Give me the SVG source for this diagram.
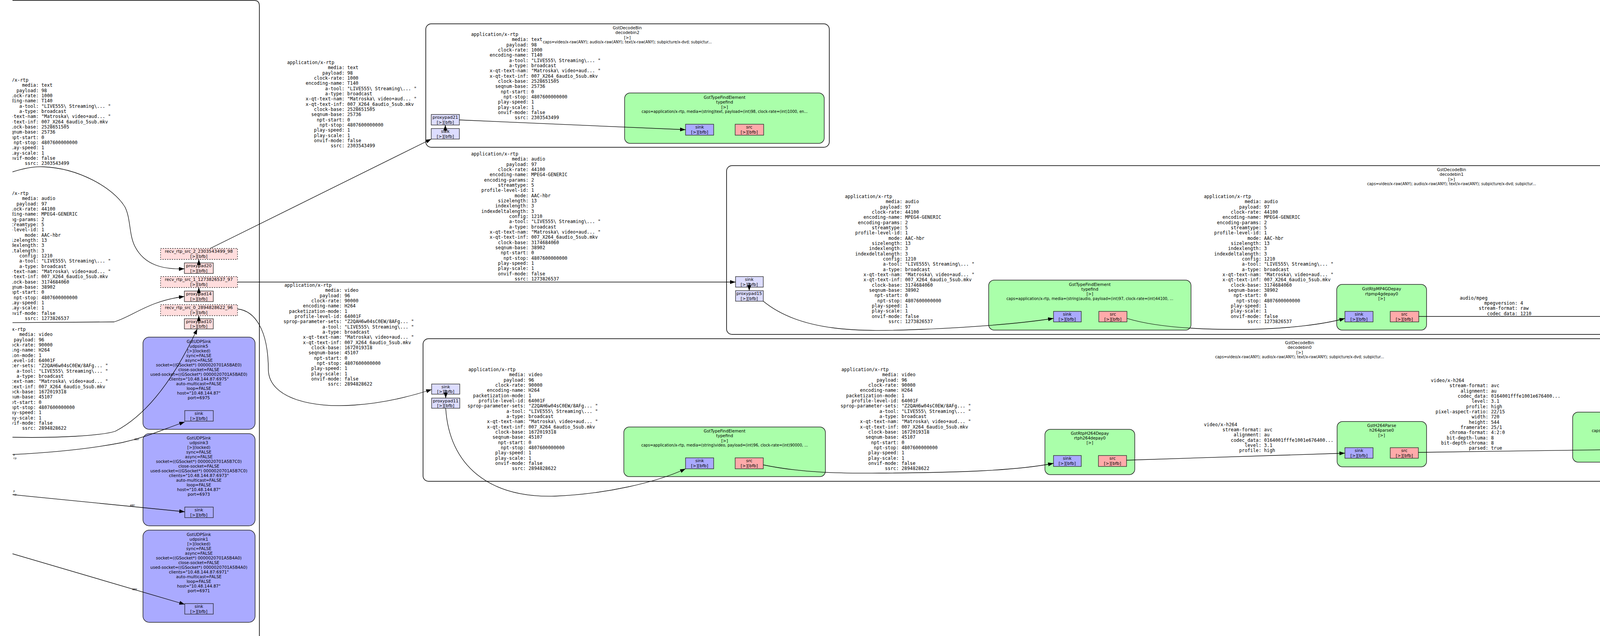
<svg xmlns="http://www.w3.org/2000/svg" xmlns:xlink="http://www.w3.org/1999/xlink" width="5776" height="1628" viewBox="0 0 5776 1628">
<style>
.bin{fill:#fff;stroke:#333;stroke-width:2}
.el{fill:#aaffaa;stroke:#222;stroke-width:1.5}
.udp{fill:#aaaaff;stroke:#222;stroke-width:1.5}
.sk{fill:#aaaaff;stroke:#222;stroke-width:1.3}
.sr{fill:#ffaaaa;stroke:#222;stroke-width:1.3}
.gs{fill:#ddddff;stroke:#222;stroke-width:1.3}
.gp{fill:#ffdddd;stroke:#222;stroke-width:1.3}
.rq{fill:#ffdddd;stroke:#222;stroke-width:1.3;stroke-dasharray:3,3}
text{fill:#000}
.l{font-family:"DejaVu Sans",sans-serif;font-size:10.5px;text-anchor:middle}
.c{font-size:9.6px}
.p{font-family:"DejaVu Sans",sans-serif;font-size:11px;text-anchor:middle}
.m{font-family:"DejaVu Sans Mono",monospace;font-size:11.8px}
.k{text-anchor:end}
.s{font-family:"DejaVu Sans Mono",monospace;font-size:7px}
.e{fill:none;stroke:#000;stroke-width:1.3;marker-end:url(#a)}
</style>
<defs>
<clipPath id="cp"><rect x="32" y="0" width="5720" height="1628"/></clipPath>
<marker id="a" markerUnits="userSpaceOnUse" markerWidth="14" markerHeight="10" refX="14" refY="5" orient="auto"><path d="M0,0L14,5L0,10z" fill="#000"/></marker>
<g id="capsT">
<text class="m" x="-154" y="0">application/x-rtp</text>
<text class="m k" y="0"><tspan x="-7" dy="13.33">media:</tspan><tspan x="-7" dy="13.33">payload:</tspan><tspan x="-7" dy="13.33">clock-rate:</tspan><tspan x="-7" dy="13.33">encoding-name:</tspan><tspan x="-7" dy="13.33">a-tool:</tspan><tspan x="-7" dy="13.33">a-type:</tspan><tspan x="-7" dy="13.33">x-qt-text-nam:</tspan><tspan x="-7" dy="13.33">x-qt-text-inf:</tspan><tspan x="-7" dy="13.33">clock-base:</tspan><tspan x="-7" dy="13.33">seqnum-base:</tspan><tspan x="-7" dy="13.33">npt-start:</tspan><tspan x="-7" dy="13.33">npt-stop:</tspan><tspan x="-7" dy="13.33">play-speed:</tspan><tspan x="-7" dy="13.33">play-scale:</tspan><tspan x="-7" dy="13.33">onvif-mode:</tspan><tspan x="-7" dy="13.33">ssrc:</tspan></text>
<text class="m" y="0"><tspan x="0" dy="13.33">text</tspan><tspan x="0" dy="13.33">98</tspan><tspan x="0" dy="13.33">1000</tspan><tspan x="0" dy="13.33">T140</tspan><tspan x="0" dy="13.33">"LIVE555\ Streaming\... "</tspan><tspan x="0" dy="13.33">broadcast</tspan><tspan x="0" dy="13.33">"Matroska\ video+aud... "</tspan><tspan x="0" dy="13.33">007_X264_6audio_5sub.mkv</tspan><tspan x="0" dy="13.33">2528651505</tspan><tspan x="0" dy="13.33">25736</tspan><tspan x="0" dy="13.33">0</tspan><tspan x="0" dy="13.33">4807600000000</tspan><tspan x="0" dy="13.33">1</tspan><tspan x="0" dy="13.33">1</tspan><tspan x="0" dy="13.33">false</tspan><tspan x="0" dy="13.33">2303543499</tspan></text>
</g>
<g id="capsA">
<text class="m" x="-154" y="0">application/x-rtp</text>
<text class="m k" y="0"><tspan x="-7" dy="13.33">media:</tspan><tspan x="-7" dy="13.33">payload:</tspan><tspan x="-7" dy="13.33">clock-rate:</tspan><tspan x="-7" dy="13.33">encoding-name:</tspan><tspan x="-7" dy="13.33">encoding-params:</tspan><tspan x="-7" dy="13.33">streamtype:</tspan><tspan x="-7" dy="13.33">profile-level-id:</tspan><tspan x="-7" dy="13.33">mode:</tspan><tspan x="-7" dy="13.33">sizelength:</tspan><tspan x="-7" dy="13.33">indexlength:</tspan><tspan x="-7" dy="13.33">indexdeltalength:</tspan><tspan x="-7" dy="13.33">config:</tspan><tspan x="-7" dy="13.33">a-tool:</tspan><tspan x="-7" dy="13.33">a-type:</tspan><tspan x="-7" dy="13.33">x-qt-text-nam:</tspan><tspan x="-7" dy="13.33">x-qt-text-inf:</tspan><tspan x="-7" dy="13.33">clock-base:</tspan><tspan x="-7" dy="13.33">seqnum-base:</tspan><tspan x="-7" dy="13.33">npt-start:</tspan><tspan x="-7" dy="13.33">npt-stop:</tspan><tspan x="-7" dy="13.33">play-speed:</tspan><tspan x="-7" dy="13.33">play-scale:</tspan><tspan x="-7" dy="13.33">onvif-mode:</tspan><tspan x="-7" dy="13.33">ssrc:</tspan></text>
<text class="m" y="0"><tspan x="0" dy="13.33">audio</tspan><tspan x="0" dy="13.33">97</tspan><tspan x="0" dy="13.33">44100</tspan><tspan x="0" dy="13.33">MPEG4-GENERIC</tspan><tspan x="0" dy="13.33">2</tspan><tspan x="0" dy="13.33">5</tspan><tspan x="0" dy="13.33">1</tspan><tspan x="0" dy="13.33">AAC-hbr</tspan><tspan x="0" dy="13.33">13</tspan><tspan x="0" dy="13.33">3</tspan><tspan x="0" dy="13.33">3</tspan><tspan x="0" dy="13.33">1210</tspan><tspan x="0" dy="13.33">"LIVE555\ Streaming\... "</tspan><tspan x="0" dy="13.33">broadcast</tspan><tspan x="0" dy="13.33">"Matroska\ video+aud... "</tspan><tspan x="0" dy="13.33">007_X264_6audio_5sub.mkv</tspan><tspan x="0" dy="13.33">3174684060</tspan><tspan x="0" dy="13.33">38902</tspan><tspan x="0" dy="13.33">0</tspan><tspan x="0" dy="13.33">4807600000000</tspan><tspan x="0" dy="13.33">1</tspan><tspan x="0" dy="13.33">1</tspan><tspan x="0" dy="13.33">false</tspan><tspan x="0" dy="13.33">1273826537</tspan></text>
</g>
<g id="capsV">
<text class="m" x="-154" y="0">application/x-rtp</text>
<text class="m k" y="0"><tspan x="-7" dy="13.33">media:</tspan><tspan x="-7" dy="13.33">payload:</tspan><tspan x="-7" dy="13.33">clock-rate:</tspan><tspan x="-7" dy="13.33">encoding-name:</tspan><tspan x="-7" dy="13.33">packetization-mode:</tspan><tspan x="-7" dy="13.33">profile-level-id:</tspan><tspan x="-7" dy="13.33">sprop-parameter-sets:</tspan><tspan x="-7" dy="13.33">a-tool:</tspan><tspan x="-7" dy="13.33">a-type:</tspan><tspan x="-7" dy="13.33">x-qt-text-nam:</tspan><tspan x="-7" dy="13.33">x-qt-text-inf:</tspan><tspan x="-7" dy="13.33">clock-base:</tspan><tspan x="-7" dy="13.33">seqnum-base:</tspan><tspan x="-7" dy="13.33">npt-start:</tspan><tspan x="-7" dy="13.33">npt-stop:</tspan><tspan x="-7" dy="13.33">play-speed:</tspan><tspan x="-7" dy="13.33">play-scale:</tspan><tspan x="-7" dy="13.33">onvif-mode:</tspan><tspan x="-7" dy="13.33">ssrc:</tspan></text>
<text class="m" y="0"><tspan x="0" dy="13.33">video</tspan><tspan x="0" dy="13.33">96</tspan><tspan x="0" dy="13.33">90000</tspan><tspan x="0" dy="13.33">H264</tspan><tspan x="0" dy="13.33">1</tspan><tspan x="0" dy="13.33">64001F</tspan><tspan x="0" dy="13.33">"Z2QAH6w04sC0EW/8AFg... "</tspan><tspan x="0" dy="13.33">"LIVE555\ Streaming\... "</tspan><tspan x="0" dy="13.33">broadcast</tspan><tspan x="0" dy="13.33">"Matroska\ video+aud... "</tspan><tspan x="0" dy="13.33">007_X264_6audio_5sub.mkv</tspan><tspan x="0" dy="13.33">1672019318</tspan><tspan x="0" dy="13.33">45107</tspan><tspan x="0" dy="13.33">0</tspan><tspan x="0" dy="13.33">4807600000000</tspan><tspan x="0" dy="13.33">1</tspan><tspan x="0" dy="13.33">1</tspan><tspan x="0" dy="13.33">false</tspan><tspan x="0" dy="13.33">2894828622</tspan></text>
</g>
<g id="capsH">
<text class="m" x="-154" y="0">video/x-h264</text>
<text class="m k" y="0"><tspan x="-7" dy="13.33">stream-format:</tspan><tspan x="-7" dy="13.33">alignment:</tspan><tspan x="-7" dy="13.33">codec_data:</tspan><tspan x="-7" dy="13.33">level:</tspan><tspan x="-7" dy="13.33">profile:</tspan><tspan x="-7" dy="13.33">pixel-aspect-ratio:</tspan><tspan x="-7" dy="13.33">width:</tspan><tspan x="-7" dy="13.33">height:</tspan><tspan x="-7" dy="13.33">framerate:</tspan><tspan x="-7" dy="13.33">chroma-format:</tspan><tspan x="-7" dy="13.33">bit-depth-luma:</tspan><tspan x="-7" dy="13.33">bit-depth-chroma:</tspan><tspan x="-7" dy="13.33">parsed:</tspan></text>
<text class="m" y="0"><tspan x="0" dy="13.33">avc</tspan><tspan x="0" dy="13.33">au</tspan><tspan x="0" dy="13.33">0164001fffe1001e676400...</tspan><tspan x="0" dy="13.33">3.1</tspan><tspan x="0" dy="13.33">high</tspan><tspan x="0" dy="13.33">22/15</tspan><tspan x="0" dy="13.33">720</tspan><tspan x="0" dy="13.33">544</tspan><tspan x="0" dy="13.33">25/1</tspan><tspan x="0" dy="13.33">4:2:0</tspan><tspan x="0" dy="13.33">8</tspan><tspan x="0" dy="13.33">8</tspan><tspan x="0" dy="13.33">true</tspan></text>
</g>
<g id="capsR">
<text class="m" x="-154" y="0">video/x-raw</text>
<text class="m k" y="0"><tspan x="-7" dy="13.33">format:</tspan><tspan x="-7" dy="13.33">width:</tspan><tspan x="-7" dy="13.33">height:</tspan><tspan x="-7" dy="13.33">interlace-mode:</tspan><tspan x="-7" dy="13.33">pixel-aspect-ratio:</tspan><tspan x="-7" dy="13.33">chroma-site:</tspan><tspan x="-7" dy="13.33">framerate:</tspan></text>
<text class="m" y="0"><tspan x="0" dy="13.33">I420</tspan><tspan x="0" dy="13.33">720</tspan><tspan x="0" dy="13.33">544</tspan><tspan x="0" dy="13.33">progressive</tspan><tspan x="0" dy="13.33">22/15</tspan><tspan x="0" dy="13.33">mpeg2</tspan><tspan x="0" dy="13.33">25/1</tspan></text>
</g>
<g id="capsF">
<text class="m" x="-154" y="0">audio/x-raw</text>
<text class="m k" y="0"><tspan x="-7" dy="13.33">format:</tspan><tspan x="-7" dy="13.33">layout:</tspan><tspan x="-7" dy="13.33">rate:</tspan><tspan x="-7" dy="13.33">channels:</tspan><tspan x="-7" dy="13.33">channel-mask:</tspan></text>
<text class="m" y="0"><tspan x="0" dy="13.33">F32LE</tspan><tspan x="0" dy="13.33">non-interleaved</tspan><tspan x="0" dy="13.33">44100</tspan><tspan x="0" dy="13.33">2</tspan><tspan x="0" dy="13.33">0x0000000000000003</tspan></text>
</g>
</defs>
<rect width="5776" height="1628" fill="#fff"/>
<g clip-path="url(#cp)">
<g id="outer_bin"><path class="bin" d="M20,1H650Q664,1 664,15V1640"/></g>
<g id="decodebin2">
<rect class="bin" x="1090" y="61" width="1033" height="316" rx="14"/>
<text class="l"><tspan x="1606" y="75">GstDecodeBin</tspan><tspan x="1606" y="87">decodebin2</tspan><tspan x="1606" y="100">[&gt;]</tspan><tspan class="c" x="1606" y="111">caps=video/x-raw(ANY); audio/x-raw(ANY); text/x-raw(ANY); subpicture/x-dvd; subpictur...</tspan></text>
</g>
<g id="decodebin1">
<rect class="bin" x="1860" y="424" width="3712" height="432" rx="14"/>
<text class="l"><tspan x="3716" y="438">GstDecodeBin</tspan><tspan x="3716" y="450">decodebin1</tspan><tspan x="3716" y="463">[&gt;]</tspan><tspan class="c" x="3716" y="474">caps=video/x-raw(ANY); audio/x-raw(ANY); text/x-raw(ANY); subpicture/x-dvd; subpictur...</tspan></text>
</g>
<g id="decodebin0">
<rect class="bin" x="1083" y="867" width="4488" height="365" rx="14"/>
<text class="l"><tspan x="3327" y="881">GstDecodeBin</tspan><tspan x="3327" y="893">decodebin0</tspan><tspan x="3327" y="906">[&gt;]</tspan><tspan class="c" x="3327" y="917">caps=video/x-raw(ANY); audio/x-raw(ANY); text/x-raw(ANY); subpicture/x-dvd; subpictur...</tspan></text>
</g>
<g id="caps_labels">
<use xlink:href="#capsT" x="106" y="209"/>
<use xlink:href="#capsT" x="889" y="164"/>
<use xlink:href="#capsT" x="1360" y="92"/>
<use xlink:href="#capsA" x="106" y="499"/>
<use xlink:href="#capsA" x="1360" y="398"/>
<use xlink:href="#capsA" x="2317" y="507"/>
<use xlink:href="#capsA" x="3236" y="507"/>
<use xlink:href="#capsV" x="99" y="847"/>
<use xlink:href="#capsV" x="882" y="734"/>
<use xlink:href="#capsV" x="1353" y="950"/>
<use xlink:href="#capsV" x="2308" y="950"/>
<g><text class="m" x="3737" y="767">audio/mpeg</text>
<text class="m k"><tspan x="3885" y="780">mpegversion:</tspan><tspan x="3885" dy="13.33">stream-format:</tspan><tspan x="3885" dy="13.33">codec_data:</tspan></text>
<text class="m"><tspan x="3892" y="780">4</tspan><tspan x="3892" dy="13.33">raw</tspan><tspan x="3892" dy="13.33">1210</tspan></text></g>
<g><text class="m" x="4663" y="687">audio/mpeg</text>
<text class="m k"><tspan x="4811" y="700">mpegversion:</tspan><tspan x="4811" dy="13.33">stream-format:</tspan><tspan x="4811" dy="13.33">codec_data:</tspan><tspan x="4811" dy="13.33">framed:</tspan><tspan x="4811" dy="13.33">level:</tspan><tspan x="4811" dy="13.33">base-profile:</tspan><tspan x="4811" dy="13.33">profile:</tspan><tspan x="4811" dy="13.33">rate:</tspan><tspan x="4811" dy="13.33">channels:</tspan></text>
<text class="m"><tspan x="4818" y="700">4</tspan><tspan x="4818" dy="13.33">raw</tspan><tspan x="4818" dy="13.33">1210</tspan><tspan x="4818" dy="13.33">true</tspan><tspan x="4818" dy="13.33">2</tspan><tspan x="4818" dy="13.33">lc</tspan><tspan x="4818" dy="13.33">lc</tspan><tspan x="4818" dy="13.33">44100</tspan><tspan x="4818" dy="13.33">2</tspan></text></g>
<use xlink:href="#capsF" x="5328" y="740"/>
<use xlink:href="#capsF" x="5737" y="699"/>
<g><text class="m" x="3082" y="1091">video/x-h264</text>
<text class="m k"><tspan x="3229" y="1104">stream-format:</tspan><tspan x="3229" dy="13.33">alignment:</tspan><tspan x="3229" dy="13.33">codec_data:</tspan><tspan x="3229" dy="13.33">level:</tspan><tspan x="3229" dy="13.33">profile:</tspan></text>
<text class="m"><tspan x="3236" y="1104">avc</tspan><tspan x="3236" dy="13.33">au</tspan><tspan x="3236" dy="13.33">0164001fffe1001e676400...</tspan><tspan x="3236" dy="13.33">3.1</tspan><tspan x="3236" dy="13.33">high</tspan></text></g>
<use xlink:href="#capsH" x="3817" y="978"/>
<use xlink:href="#capsH" x="4747" y="950"/>
<use xlink:href="#capsR" x="5354" y="950"/>
<use xlink:href="#capsR" x="5762" y="827"/>
</g>
<g id="udpsink5"><rect class="udp" x="366" y="863" width="287" height="236" rx="16"/>
<text class="l"><tspan x="509" y="878">GstUDPSink</tspan><tspan x="509" dy="12">udpsink5</tspan><tspan x="509" dy="12">[&gt;](locked)</tspan><tspan x="509" dy="12">sync=FALSE</tspan><tspan x="509" dy="12">async=FALSE</tspan><tspan x="509" dy="12">socket=((GSocket*) 0000020701A5BAE0)</tspan><tspan x="509" dy="12">close-socket=FALSE</tspan><tspan x="509" dy="12">used-socket=((GSocket*) 0000020701A5BAE0)</tspan><tspan x="509" dy="12">clients="10.48.144.87:6975"</tspan><tspan x="509" dy="12">auto-multicast=FALSE</tspan><tspan x="509" dy="12">loop=FALSE</tspan><tspan x="509" dy="12">host="10.48.144.87"</tspan><tspan x="509" dy="12">port=6975</tspan></text>
<rect class="sk" x="473" y="1051" width="73" height="27"/><text class="p"><tspan x="509" y="1062">sink</tspan><tspan x="509" y="1075">[&gt;][bfb]</tspan></text></g>
<g id="udpsink3"><rect class="udp" x="366" y="1110" width="287" height="236" rx="16"/>
<text class="l"><tspan x="509" y="1125">GstUDPSink</tspan><tspan x="509" dy="12">udpsink3</tspan><tspan x="509" dy="12">[&gt;](locked)</tspan><tspan x="509" dy="12">sync=FALSE</tspan><tspan x="509" dy="12">async=FALSE</tspan><tspan x="509" dy="12">socket=((GSocket*) 0000020701A5B7C0)</tspan><tspan x="509" dy="12">close-socket=FALSE</tspan><tspan x="509" dy="12">used-socket=((GSocket*) 0000020701A5B7C0)</tspan><tspan x="509" dy="12">clients="10.48.144.87:6973"</tspan><tspan x="509" dy="12">auto-multicast=FALSE</tspan><tspan x="509" dy="12">loop=FALSE</tspan><tspan x="509" dy="12">host="10.48.144.87"</tspan><tspan x="509" dy="12">port=6973</tspan></text>
<rect class="sk" x="473" y="1298" width="73" height="27"/><text class="p"><tspan x="509" y="1309">sink</tspan><tspan x="509" y="1322">[&gt;][bfb]</tspan></text></g>
<g id="udpsink1"><rect class="udp" x="366" y="1357" width="287" height="236" rx="16"/>
<text class="l"><tspan x="509" y="1372">GstUDPSink</tspan><tspan x="509" dy="12">udpsink1</tspan><tspan x="509" dy="12">[&gt;](locked)</tspan><tspan x="509" dy="12">sync=FALSE</tspan><tspan x="509" dy="12">async=FALSE</tspan><tspan x="509" dy="12">socket=((GSocket*) 0000020701A5B4A0)</tspan><tspan x="509" dy="12">close-socket=FALSE</tspan><tspan x="509" dy="12">used-socket=((GSocket*) 0000020701A5B4A0)</tspan><tspan x="509" dy="12">clients="10.48.144.87:6971"</tspan><tspan x="509" dy="12">auto-multicast=FALSE</tspan><tspan x="509" dy="12">loop=FALSE</tspan><tspan x="509" dy="12">host="10.48.144.87"</tspan><tspan x="509" dy="12">port=6971</tspan></text>
<rect class="sk" x="473" y="1545" width="73" height="27"/><text class="p"><tspan x="509" y="1556">sink</tspan><tspan x="509" y="1569">[&gt;][bfb]</tspan></text></g>
<g id="recv_pads">
<rect class="rq" x="411" y="636" width="197" height="28"/><text class="p"><tspan x="509" y="647">recv_rtp_src_2_2303543499_98</tspan><tspan x="509" y="660">[&gt;][bfb]</tspan></text>
<rect class="gp" x="472" y="673" width="74" height="27"/><text class="p"><tspan x="509" y="684">proxypad20</tspan><tspan x="509" y="697">[&gt;][bfb]</tspan></text>
<rect class="rq" x="411" y="708" width="197" height="28"/><text class="p"><tspan x="509" y="719">recv_rtp_src_1_1273826537_97</tspan><tspan x="509" y="732">[&gt;][bfb]</tspan></text>
<rect class="gp" x="472" y="745" width="74" height="27"/><text class="p"><tspan x="509" y="756">proxypad14</tspan><tspan x="509" y="769">[&gt;][bfb]</tspan></text>
<rect class="rq" x="411" y="780" width="197" height="28"/><text class="p"><tspan x="509" y="791">recv_rtp_src_0_2894828622_96</tspan><tspan x="509" y="804">[&gt;][bfb]</tspan></text>
<rect class="gp" x="472" y="816" width="74" height="26"/><text class="p"><tspan x="509" y="827">proxypad10</tspan><tspan x="509" y="839">[&gt;][bfb]</tspan></text>
</g>
<g id="db2_pads">
<rect class="gs" x="1104" y="293" width="72" height="27"/><text class="p"><tspan x="1140" y="304">proxypad21</tspan><tspan x="1140" y="317">[&gt;][bfb]</tspan></text>
<rect class="gs" x="1104" y="329" width="72" height="27"/><text class="p"><tspan x="1140" y="340">sink</tspan><tspan x="1140" y="353">[&gt;][bfb]</tspan></text>
</g>
<g id="typefind_db2"><rect class="el" x="1599" y="238" width="511" height="129" rx="14"/>
<text class="l"><tspan x="1855" y="253">GstTypeFindElement</tspan><tspan x="1855" y="265">typefind</tspan><tspan x="1855" y="278">[&gt;]</tspan><tspan class="c" x="1855" y="289">caps=application/x-rtp, media=(string)text, payload=(int)98, clock-rate=(int)1000, en...</tspan></text>
<rect class="sk" x="1755" y="318" width="72" height="28"/><text class="p"><tspan x="1791" y="329">sink</tspan><tspan x="1791" y="342">[&gt;][bfb]</tspan></text>
<rect class="sr" x="1882" y="318" width="73" height="28"/><text class="p"><tspan x="1918" y="329">src</tspan><tspan x="1918" y="342">[&gt;][bfb]</tspan></text></g>
<g id="db1_pads">
<rect class="gs" x="1883" y="708" width="71" height="27"/><text class="p"><tspan x="1918" y="719">sink</tspan><tspan x="1918" y="732">[&gt;][bfb]</tspan></text>
<rect class="gs" x="1883" y="744" width="71" height="27"/><text class="p"><tspan x="1918" y="755">proxypad15</tspan><tspan x="1918" y="768">[&gt;][bfb]</tspan></text>
<rect class="rq" x="5477" y="762" width="73" height="27"/><text class="p"><tspan x="5513" y="773">src_0</tspan><tspan x="5513" y="786">[&gt;][bfb]</tspan></text>
<rect class="gp" x="5477" y="798" width="73" height="26"/><text class="p"><tspan x="5513" y="809">proxypad16</tspan><tspan x="5513" y="821">[&gt;][bfb]</tspan></text>
</g>
<g id="typefind_db1"><rect class="el" x="2531" y="717" width="518" height="128" rx="14"/>
<text class="l"><tspan x="2790" y="732">GstTypeFindElement</tspan><tspan x="2790" y="744">typefind</tspan><tspan x="2790" y="756">[&gt;]</tspan><tspan class="c" x="2790" y="768">caps=application/x-rtp, media=(string)audio, payload=(int)97, clock-rate=(int)44100, ...</tspan></text>
<rect class="sk" x="2697" y="797" width="71" height="27"/><text class="p"><tspan x="2732" y="808">sink</tspan><tspan x="2732" y="821">[&gt;][bfb]</tspan></text>
<rect class="sr" x="2813" y="797" width="72" height="27"/><text class="p"><tspan x="2849" y="808">src</tspan><tspan x="2849" y="821">[&gt;][bfb]</tspan></text></g>
<g id="rtpmp4gdepay0"><rect class="el" x="3422" y="728" width="230" height="117" rx="14"/>
<text class="l"><tspan x="3537" y="743">GstRtpMP4GDepay</tspan><tspan x="3537" y="756">rtpmp4gdepay0</tspan><tspan x="3537" y="768">[&gt;]</tspan></text>
<rect class="sk" x="3443" y="797" width="72" height="27"/><text class="p"><tspan x="3479" y="808">sink</tspan><tspan x="3479" y="821">[&gt;][bfb]</tspan></text>
<rect class="sr" x="3559" y="797" width="73" height="27"/><text class="p"><tspan x="3595" y="808">src</tspan><tspan x="3595" y="821">[&gt;][bfb]</tspan></text></g>
<g id="aacparse0"><rect class="el" x="4177" y="728" width="230" height="117" rx="14"/>
<text class="l"><tspan x="4292" y="743">GstAacParse</tspan><tspan x="4292" y="756">aacparse0</tspan><tspan x="4292" y="768">[&gt;]</tspan></text>
<rect class="sk" x="4198" y="797" width="72" height="27"/><text class="p"><tspan x="4234" y="808">sink</tspan><tspan x="4234" y="821">[&gt;][bfb]</tspan></text>
<rect class="sr" x="4314" y="797" width="72" height="27"/><text class="p"><tspan x="4350" y="808">src</tspan><tspan x="4350" y="821">[&gt;][bfb]</tspan></text></g>
<g id="avdec_aac0"><rect class="el" x="4934" y="728" width="229" height="117" rx="14"/>
<text class="l"><tspan x="5048" y="743">avdec_aac</tspan><tspan x="5048" y="755">avdec_aac0</tspan><tspan x="5048" y="768">[&gt;]</tspan></text>
<rect class="sk" x="4954" y="797" width="72" height="27"/><text class="p"><tspan x="4990" y="808">sink</tspan><tspan x="4990" y="821">[&gt;][bfb]</tspan></text>
<rect class="sr" x="5070" y="797" width="72" height="27"/><text class="p"><tspan x="5106" y="808">src</tspan><tspan x="5106" y="821">[&gt;][bfb]</tspan></text></g>
<g id="db0_pads">
<rect class="gs" x="1105" y="983" width="72" height="26"/><text class="p"><tspan x="1141" y="994">sink</tspan><tspan x="1141" y="1006">[&gt;][bfb]</tspan></text>
<rect class="gs" x="1105" y="1019" width="72" height="26"/><text class="p"><tspan x="1141" y="1030">proxypad11</tspan><tspan x="1141" y="1042">[&gt;][bfb]</tspan></text>
<rect class="rq" x="5478" y="946" width="73" height="28"/><text class="p"><tspan x="5514" y="957">src_0</tspan><tspan x="5514" y="970">[&gt;][bfb]</tspan></text>
<rect class="gp" x="5478" y="983" width="73" height="26"/><text class="p"><tspan x="5514" y="994">proxypad12</tspan><tspan x="5514" y="1006">[&gt;][bfb]</tspan></text>
</g>
<g id="typefind_db0"><rect class="el" x="1597" y="1093" width="516" height="127" rx="14"/>
<text class="l"><tspan x="1855" y="1107">GstTypeFindElement</tspan><tspan x="1855" y="1119">typefind</tspan><tspan x="1855" y="1132">[&gt;]</tspan><tspan class="c" x="1855" y="1143">caps=application/x-rtp, media=(string)video, payload=(int)96, clock-rate=(int)90000, ...</tspan></text>
<rect class="sk" x="1755" y="1172" width="72" height="28"/><text class="p"><tspan x="1791" y="1183">sink</tspan><tspan x="1791" y="1196">[&gt;][bfb]</tspan></text>
<rect class="sr" x="1882" y="1172" width="72" height="28"/><text class="p"><tspan x="1918" y="1183">src</tspan><tspan x="1918" y="1196">[&gt;][bfb]</tspan></text></g>
<g id="rtph264depay0"><rect class="el" x="2675" y="1099" width="230" height="116" rx="14"/>
<text class="l"><tspan x="2790" y="1113">GstRtpH264Depay</tspan><tspan x="2790" y="1125">rtph264depay0</tspan><tspan x="2790" y="1137">[&gt;]</tspan></text>
<rect class="sk" x="2697" y="1166" width="71" height="28"/><text class="p"><tspan x="2732" y="1177">sink</tspan><tspan x="2732" y="1190">[&gt;][bfb]</tspan></text>
<rect class="sr" x="2812" y="1166" width="72" height="28"/><text class="p"><tspan x="2848" y="1177">src</tspan><tspan x="2848" y="1190">[&gt;][bfb]</tspan></text></g>
<g id="h264parse0"><rect class="el" x="3423" y="1079" width="229" height="116" rx="14"/>
<text class="l"><tspan x="3537" y="1093">GstH264Parse</tspan><tspan x="3537" y="1105">h264parse0</tspan><tspan x="3537" y="1118">[&gt;]</tspan></text>
<rect class="sk" x="3443" y="1146" width="72" height="27"/><text class="p"><tspan x="3479" y="1157">sink</tspan><tspan x="3479" y="1170">[&gt;][bfb]</tspan></text>
<rect class="sr" x="3559" y="1146" width="72" height="27"/><text class="p"><tspan x="3595" y="1157">src</tspan><tspan x="3595" y="1170">[&gt;][bfb]</tspan></text></g>
<g id="capsfilter0"><rect class="el" x="4026" y="1055" width="534" height="128" rx="14"/>
<text class="l"><tspan x="4293" y="1070">GstCapsFilter</tspan><tspan x="4293" y="1083">capsfilter0</tspan><tspan x="4293" y="1095">[&gt;]</tspan><tspan class="c" x="4293" y="1106">caps=video/x-h264, alignment=(string)au, stream-format=(string){ avc, byte-stream }, ...</tspan></text>
<rect class="sk" x="4198" y="1136" width="72" height="26"/><text class="p"><tspan x="4234" y="1147">sink</tspan><tspan x="4234" y="1159">[&gt;][bfb]</tspan></text>
<rect class="sr" x="4314" y="1136" width="72" height="26"/><text class="p"><tspan x="4350" y="1147">src</tspan><tspan x="4350" y="1159">[&gt;][bfb]</tspan></text></g>
<g id="avdec_h264-0"><rect class="el" x="4934" y="1024" width="229" height="116" rx="14"/>
<text class="l"><tspan x="5048" y="1038">avdec_h264</tspan><tspan x="5048" y="1050">avdec_h264-0</tspan><tspan x="5048" y="1062">[&gt;]</tspan></text>
<rect class="sk" x="4955" y="1091" width="71" height="28"/><text class="p"><tspan x="4990" y="1102">sink</tspan><tspan x="4990" y="1115">[&gt;][bfb]</tspan></text>
<rect class="sr" x="5070" y="1091" width="72" height="28"/><text class="p"><tspan x="5106" y="1102">src</tspan><tspan x="5106" y="1115">[&gt;][bfb]</tspan></text></g>
<g id="connectors">
<path class="e" d="M1140,340L1140,320"/>
<path class="e" d="M1918,724L1918,744"/>
<path class="e" d="M1141,998L1141,1019"/>
<path class="e" d="M509,685L509,664"/>
<path class="e" d="M509,757L509,736"/>
<path class="e" d="M509,828L509,808"/>
<path class="e" d="M5513,810L5513,789"/>
<path class="e" d="M5514,995L5514,974"/>
<path class="e" d="M538,636L1104,356"/>
<path class="e" d="M608,722L1883,722"/>
<path class="e" d="M608,791C650,795 687,840 687,948C690,1020 800,1045 906,1037C980,1032 1050,1015 1105,997"/>
<path class="e" d="M20,444C60,430 90,426 110,427C200,430 290,480 320,530C335,560 330,600 345,630C370,680 420,690 472,688"/>
<path class="e" d="M20,826L292,824C340,810 380,770 472,759"/>
<path class="e" d="M20,1119C150,1122 260,1115 295,1104C380,1060 450,960 505,842"/>
<path class="e" d="M20,1164C150,1158 250,1145 312,1133C380,1118 420,1098 473,1080"/>
<path class="e" d="M20,1265L473,1310"/>
<path class="e" d="M20,1414L473,1547"/>
<path class="e" d="M1176,307L1755,332"/>
<path class="e" d="M1954,771C2050,850 2200,850 2360,843C2480,838 2600,830 2697,815"/>
<path class="e" d="M2885,815C2950,835 3050,845 3200,843C3300,841 3390,830 3443,815"/>
<path class="e" d="M3632,810L4198,810"/>
<path class="e" d="M4386,810L4954,810"/>
<path class="e" d="M5142,810L5477,810"/>
<path class="e" d="M5550,774C5620,771 5700,775 5790,786"/>
<path class="e" d="M1141,1045C1150,1190 1250,1275 1420,1270C1550,1265 1680,1235 1755,1200"/>
<path class="e" d="M1954,1190C2050,1210 2150,1212 2250,1211C2450,1210 2600,1205 2697,1186"/>
<path class="e" d="M2884,1178L3443,1160"/>
<path class="e" d="M3631,1158L4198,1150"/>
<path class="e" d="M4386,1151C4420,1154 4480,1154 4560,1153C4750,1150 4870,1140 4955,1119"/>
<path class="e" d="M5142,1105C5300,1100 5450,1060 5497,1009"/>
<path class="e" d="M5551,958L5790,931"/>
<text class="s" x="350" y="1127" text-anchor="middle">ANY</text>
<text class="s" x="339" y="1296" text-anchor="middle">ANY</text>
<text class="s" x="345" y="1511" text-anchor="middle">ANY</text>
<text class="s" x="34" y="1166">p</text><text class="s" x="34" y="1175">cp</text>
<text class="s" x="34" y="1259">p</text><text class="s" x="34" y="1268">cp</text>
</g>
</g>
</svg>
